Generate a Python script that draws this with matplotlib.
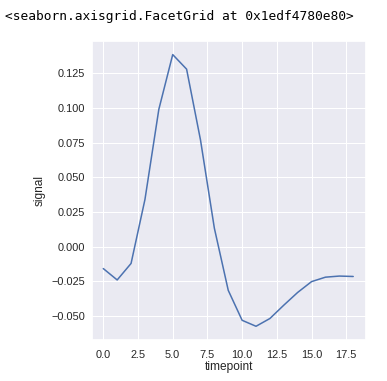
import numpy as np
import matplotlib
matplotlib.use("Agg")
import matplotlib.pyplot as plt
import seaborn as sns

# mean signal per timepoint
timepoint = list(range(19))
signal = [-0.0158, -0.0240, -0.0121, 0.0340, 0.0990, 0.1385, 0.1280, 0.0770,
          0.0133, -0.0315, -0.0531, -0.0574, -0.0518, -0.0422, -0.0330,
          -0.0252, -0.0220, -0.0212, -0.0215]
header = "<seaborn.axisgrid.FacetGrid at 0x1edf4780e80>"

sns.set_theme(style="darkgrid")
plt.rcParams['font.family'] = ['Liberation Sans', 'DejaVu Sans']

fig = plt.figure(figsize=(3.87, 3.81), dpi=100)
ax = fig.add_axes([91.7 / 387, 1 - 340 / 381, (365.7 - 91.7) / 387, (340 - 41) / 381])

ax.plot(timepoint, signal, color="#4c72b0", linewidth=1.1)
ax.set_xlim(-0.835, 18.9)
ax.set_ylim(-0.0673, 0.1483)
ax.set_xticks(np.arange(0, 18.1, 2.5))
ax.set_yticks([-0.05, -0.025, 0.0, 0.025, 0.05, 0.075, 0.1, 0.125])
ax.set_yticklabels(["\u22120.050", "\u22120.025", "0.000", "0.025", "0.050", "0.075", "0.100", "0.125"])
ax.tick_params(labelsize=7.9, colors="#262626", length=0)
ax.tick_params(axis="x", pad=7)
ax.tick_params(axis="y", pad=4.5)
ax.grid(color="white", linewidth=0.75)
ax.set_xlabel("timepoint", fontsize=8.6, color="#262626", labelpad=1)
ax.set_ylabel("signal", fontsize=8.6, color="#262626", labelpad=4)

fig.text(5 / 387, 1 - 20 / 381, header, family="DejaVu Sans Mono", fontsize=9.3,
         color="black", va="baseline", ha="left")

fig.savefig("out.png", dpi=100, facecolor="white")
